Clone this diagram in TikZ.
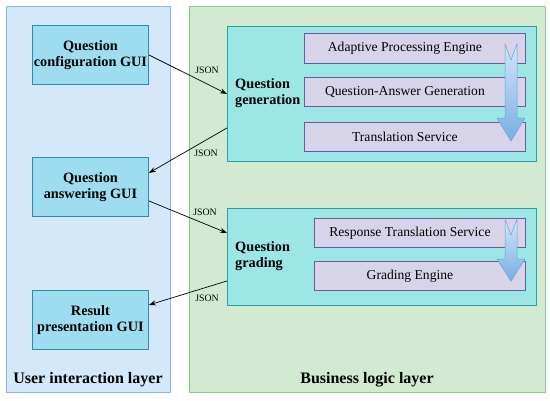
\documentclass[tikz,border=0pt]{standalone}
\usepackage{fontspec}
\setmainfont{Liberation Serif}
\usetikzlibrary{calc,arrows.meta}
\definecolor{ulfill}{HTML}{D5E8F9}
\definecolor{uldraw}{HTML}{8FB5DF}
\definecolor{blfill}{HTML}{D2EAD2}
\definecolor{bldraw}{HTML}{8CC68A}
\definecolor{guifill}{HTML}{9EDDF0}
\definecolor{guidraw}{HTML}{2B8DA8}
\definecolor{procfill}{HTML}{9DE6E6}
\definecolor{procdraw}{HTML}{2A9FA6}
\definecolor{subfill}{HTML}{D7D4EA}
\definecolor{subdraw}{HTML}{6B5B9B}
\definecolor{arrtop}{HTML}{D2E6F9}
\definecolor{arrbot}{HTML}{78AEE2}
\definecolor{arrdraw}{HTML}{6A9FD6}
\tikzset{
  box/.style={anchor=north west, inner sep=0pt, line width=0.9pt},
  layerU/.style={box, draw=uldraw, fill=ulfill},
  layerB/.style={box, draw=bldraw, fill=blfill},
  gui/.style={box, draw=guidraw, fill=guifill, align=center, font=\fontsize{14.3}{15.5}\selectfont\bfseries, minimum width=116pt, minimum height=59pt},
  proc/.style={box, draw=procdraw, fill=procfill, minimum width=309pt},
  sub/.style={box, draw=subdraw, fill=subfill, font=\fontsize{13.6}{15}\selectfont},
  plbl/.style={anchor=west, align=left, inner sep=0pt, font=\fontsize{14.3}{16}\selectfont\bfseries},
  lbl/.style={inner sep=0pt, font=\fontsize{9.8}{11}\selectfont},
  laylbl/.style={inner sep=0pt, font=\fontsize{16}{17}\selectfont\bfseries},
  conn/.style={-{Stealth[length=7pt,width=5pt]}, line width=0.7pt},
  flow/.style={draw=arrdraw, line width=0.5pt, top color=arrtop, bottom color=arrbot}
}
\begin{document}
\begin{tikzpicture}[x=1pt,y=-1pt]
\useasboundingbox (0,0) rectangle (550,400);
% layers
\node[layerU, minimum width=164pt, minimum height=386pt] (ul) at (6,6) {};
\node[layerB, minimum width=356pt, minimum height=386pt] (bl) at (189,6) {};
\node[laylbl] (ullbl) at (88,380) {User interaction layer};
\node[laylbl] (bllbl) at (367,380) {Business logic layer};
% GUIs
\node[gui] (cfg) at (32,25) {Question\\configuration GUI};
\node[gui] (ans) at (32,157) {Question\\answering GUI};
\node[gui] (res) at (32,290) {Result\\presentation GUI};
% processes
\node[proc, minimum height=135pt] (gen) at (227,26) {};
\node[proc, minimum height=97pt] (grd) at (227,208) {};
\node[plbl] (genlbl) at (235,93) {Question\\generation};
\node[plbl] (grdlbl) at (235,256) {Question\\grading};
% sub boxes
\node[sub, minimum width=221pt, minimum height=30pt] (ape) at (304,33) {\hspace*{-20pt}Adaptive Processing Engine};
\node[sub, minimum width=221pt, minimum height=29pt] (qag) at (304,77) {\hspace*{-20pt}Question-Answer Generation};
\node[sub, minimum width=221pt, minimum height=29pt] (trs) at (304,122) {\hspace*{-20pt}Translation Service};
\node[sub, minimum width=211pt, minimum height=29pt] (rts) at (314,218) {\hspace*{-20pt}Response Translation Service};
\node[sub, minimum width=211pt, minimum height=29pt] (gre) at (314,261) {\hspace*{-20pt}Grading Engine};
% flow arrows
\draw[flow] (505,44) -- (511,60) -- (517,44) -- (517,118) -- (525,118) -- (511,141) -- (497,118) -- (505,118) -- cycle;
\draw[flow] (505,219) -- (511,235) -- (517,219) -- (517,259) -- (525,259) -- (511,281) -- (497,259) -- (505,259) -- cycle;
% connectors
\draw[conn] (cfg.east) -- (gen.west);
\draw[conn] ($(gen.west)+(0,34)$) -- ($(ans.east)+(0,-14)$);
\draw[conn] ($(ans.east)+(0,14)$) -- ($(grd.west)+(0,-24)$);
\draw[conn] ($(grd.west)+(0,24)$) -- ($(res.east)+(0,-15)$);
\node[lbl] (j1) at (207,70) {JSON};
\node[lbl] (j2) at (206,153) {JSON};
\node[lbl] (j3) at (205,212) {JSON};
\node[lbl] (j4) at (207,298) {JSON};
\end{tikzpicture}
\end{document}
